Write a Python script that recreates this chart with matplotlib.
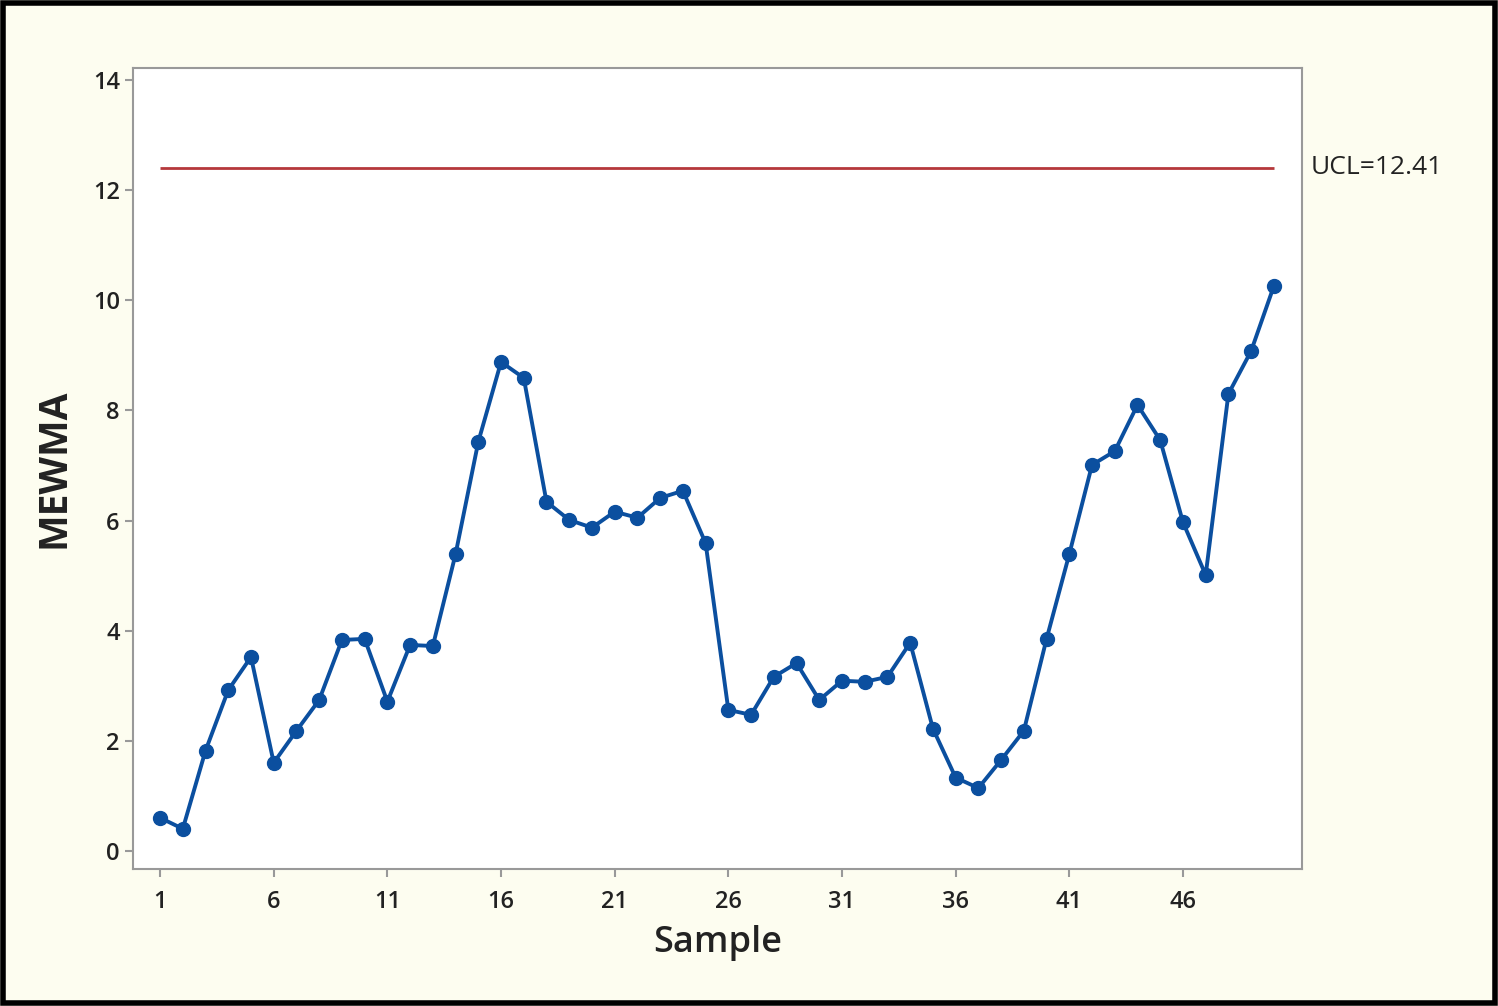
import matplotlib.pyplot as plt

# MEWMA chart data
samples = list(range(1, 51))
mewma = [0.60, 0.40, 1.82, 2.92, 3.52, 1.60, 2.18, 2.74, 3.83, 3.85,
         2.71, 3.74, 3.72, 5.39, 7.43, 8.88, 8.59, 6.34, 6.01, 5.87,
         6.16, 6.05, 6.41, 6.54, 5.59, 2.56, 2.47, 3.16, 3.41, 2.74,
         3.09, 3.07, 3.16, 3.78, 2.22, 1.33, 1.14, 1.65, 2.18, 3.85,
         5.39, 7.01, 7.26, 8.10, 7.46, 5.97, 5.01, 8.30, 9.08, 10.26]
ucl = 12.41
xticks = [1, 6, 11, 16, 21, 26, 31, 36, 41, 46]
yticks = [0, 2, 4, 6, 8, 10, 12, 14]

plt.rcParams['font.family'] = ['Open Sans', 'DejaVu Sans']

bg = '#fdfdf0'
fig = plt.figure(figsize=(14.98, 10.06), dpi=100, facecolor=bg)
ax = fig.add_axes([0.0888, 0.1362, 0.7804, 0.7962])
ax.set_facecolor('white')

ax.plot(samples, mewma, color='#0b4f9f', lw=2.8, marker='o', ms=10, zorder=3)
ax.hlines(ucl, samples[0], samples[-1], color='#b5383b', lw=2)
ax.text(1.007, ucl, 'UCL=12.41', transform=ax.get_yaxis_transform(),
        va='center', ha='left', fontsize=19, color='#222222')

ax.set_xlim(-0.19, 51.24)
ax.set_ylim(-0.33, 14.22)
ax.set_xticks(xticks)
ax.set_yticks(yticks)
for s in ax.spines.values():
    s.set_color('#999999')
    s.set_linewidth(1.5)
ax.tick_params(colors='#999999', labelcolor='#222222', labelsize=17,
               length=6, width=1.5)
ax.tick_params(axis='x', pad=9)
for lab in ax.get_xticklabels() + ax.get_yticklabels():
    lab.set_fontweight('semibold')

ax.set_xlabel('Sample', fontsize=26, fontweight='semibold', color='#222222', labelpad=8)
ax.set_ylabel('MEWMA', fontsize=28, fontweight='bold', color='#222222', labelpad=14)

# outer black frame
fig.patches.append(plt.Rectangle((0.002, 0.003), 0.996, 0.994, transform=fig.transFigure,
                                 fill=False, edgecolor='black', lw=4))

fig.savefig('out.png', dpi=100, facecolor=bg)
